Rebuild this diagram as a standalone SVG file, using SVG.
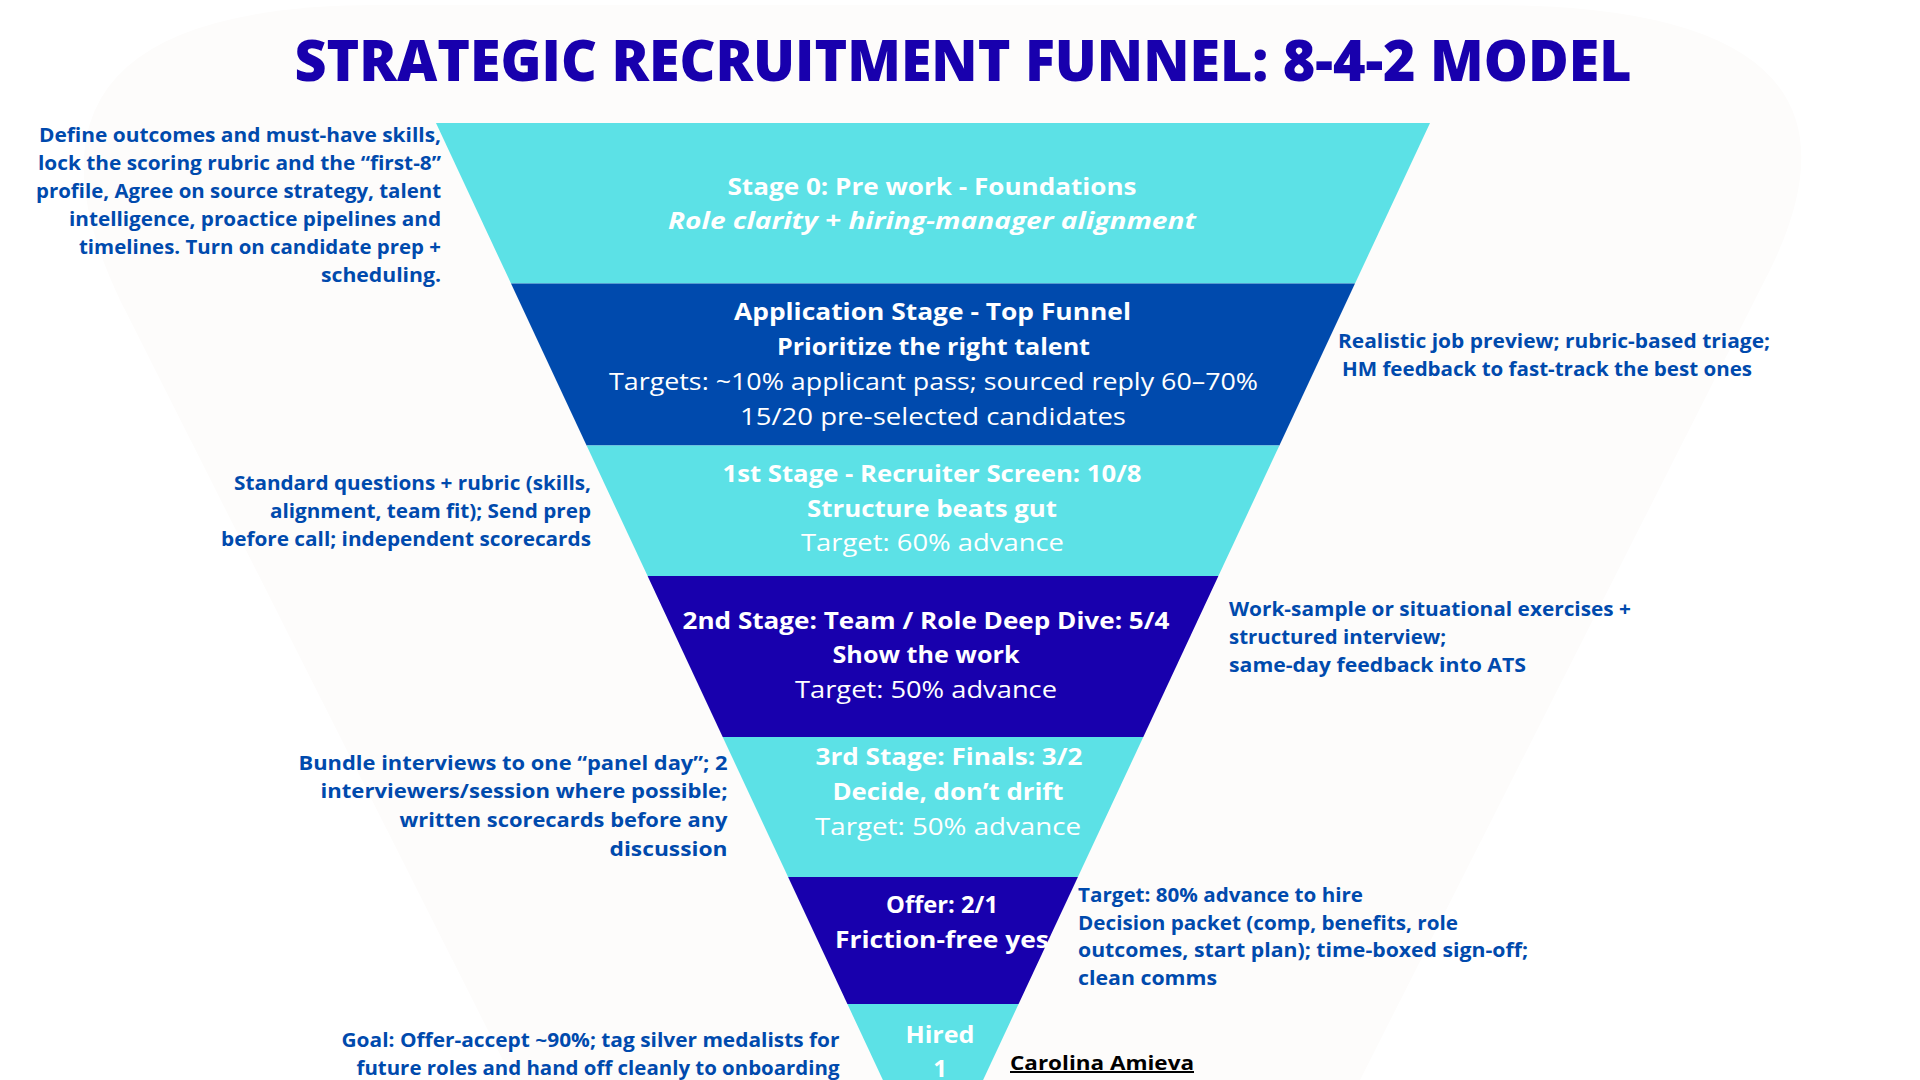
<svg xmlns="http://www.w3.org/2000/svg" width="1920" height="1080" viewBox="0 0 1920 1080">
  <style>
    .title { font-family: "Open Sans", "Liberation Sans", sans-serif; font-weight: 800; font-size: 56px; fill: #1800ad; }
    .main { font-family: "Open Sans", "Liberation Sans", sans-serif; font-size: 24px; fill: #ffffff; }
    .b { font-weight: 700; }
    .r { font-weight: 400; }
    .note { font-family: "Open Sans", "Liberation Sans", sans-serif; font-weight: 700; font-size: 19px; fill: #004aad; }
    .cyan { fill: #5ce1e6; }
    .blue { fill: #004aad; }
    .purple { fill: #1800ad; }
  </style>
  <rect width="1920" height="1080" fill="#ffffff"/>
  <g id="background">
    <path d="M380,5 L1490,5 Q1900,5 1770,270 L1360,1080 L513,1080 L120,300 Q-20,5 380,5 Z" fill="#fdfcfb"/>
  </g>
  <text class="title" x="963" y="81" text-anchor="middle" textLength="1337" lengthAdjust="spacingAndGlyphs">STRATEGIC RECRUITMENT FUNNEL: 8-4-2 MODEL</text>

  <g id="funnel">
    <g id="stage0">
      <polygon class="cyan" points="436,123 1430,123 1355,283.5 511,283.5"/>
      <text class="main b" x="932" y="195" text-anchor="middle" textLength="409" lengthAdjust="spacingAndGlyphs">Stage 0: Pre work - Foundations</text>
      <text class="main b" x="932" y="229" text-anchor="middle" font-style="italic" textLength="528" lengthAdjust="spacingAndGlyphs">Role clarity + hiring-manager alignment</text>
    </g>
    <g id="application">
      <polygon class="blue" points="511,283.5 1355,283.5 1279.4,445.5 586.6,445.5"/>
      <text class="main b" x="932.5" y="320" text-anchor="middle" textLength="397" lengthAdjust="spacingAndGlyphs">Application Stage - Top Funnel</text>
      <text class="main b" x="933.5" y="355" text-anchor="middle" textLength="313" lengthAdjust="spacingAndGlyphs">Prioritize the right talent</text>
      <text class="main r" x="933.5" y="390" text-anchor="middle" textLength="649" lengthAdjust="spacingAndGlyphs">Targets: ~10% applicant pass; sourced reply 60–70%</text>
      <text class="main r" x="933" y="425" text-anchor="middle" textLength="386" lengthAdjust="spacingAndGlyphs">15/20 pre-selected candidates</text>
    </g>
    <g id="stage1">
      <polygon class="cyan" points="586.6,445.5 1279.4,445.5 1218.4,576 647.6,576"/>
      <text class="main b" x="932" y="482" text-anchor="middle" textLength="419" lengthAdjust="spacingAndGlyphs">1st Stage - Recruiter Screen: 10/8</text>
      <text class="main b" x="932" y="517" text-anchor="middle" textLength="250" lengthAdjust="spacingAndGlyphs">Structure beats gut</text>
      <text class="main r" x="932.5" y="551" text-anchor="middle" textLength="263" lengthAdjust="spacingAndGlyphs">Target: 60% advance</text>
    </g>
    <g id="stage2">
      <polygon class="purple" points="647.6,576 1218.4,576 1143.3,737 722.7,737"/>
      <text class="main b" x="926" y="629" text-anchor="middle" textLength="487" lengthAdjust="spacingAndGlyphs">2nd Stage: Team / Role Deep Dive: 5/4</text>
      <text class="main b" x="926" y="663" text-anchor="middle" textLength="187" lengthAdjust="spacingAndGlyphs">Show the work</text>
      <text class="main r" x="926" y="698" text-anchor="middle" textLength="262" lengthAdjust="spacingAndGlyphs">Target: 50% advance</text>
    </g>
    <g id="stage3">
      <polygon class="cyan" points="722.7,737 1143.3,737 1077.9,877 788.1,877"/>
      <text class="main b" x="949" y="765" text-anchor="middle" textLength="267" lengthAdjust="spacingAndGlyphs">3rd Stage: Finals: 3/2</text>
      <text class="main b" x="948" y="800" text-anchor="middle" textLength="231" lengthAdjust="spacingAndGlyphs">Decide, don’t drift</text>
      <text class="main r" x="948" y="835" text-anchor="middle" textLength="266" lengthAdjust="spacingAndGlyphs">Target: 50% advance</text>
    </g>
    <g id="offer">
      <polygon class="purple" points="788.1,877 1077.9,877 1018.6,1004 847.4,1004"/>
      <text class="main b" x="942" y="913" text-anchor="middle" textLength="112" lengthAdjust="spacingAndGlyphs">Offer: 2/1</text>
      <text class="main b" x="942" y="948" text-anchor="middle" textLength="214" lengthAdjust="spacingAndGlyphs">Friction-free yes</text>
    </g>
    <g id="hired">
      <polygon class="cyan" points="847.4,1004 1018.6,1004 983.1,1080 882.9,1080"/>
      <text class="main b" x="940" y="1043" text-anchor="middle" textLength="69" lengthAdjust="spacingAndGlyphs">Hired</text>
      <text class="main b" x="940" y="1077" text-anchor="middle">1</text>
    </g>
  </g>

  <g id="connectors"/>

  <g id="notes">
    <g id="note-stage0" class="note" text-anchor="end">
      <text x="441" y="142" textLength="402" lengthAdjust="spacingAndGlyphs">Define outcomes and must-have skills,</text>
      <text x="441" y="170" textLength="403" lengthAdjust="spacingAndGlyphs">lock the scoring rubric and the “first-8”</text>
      <text x="441" y="198" textLength="405" lengthAdjust="spacingAndGlyphs">profile, Agree on source strategy, talent</text>
      <text x="441" y="226" textLength="372" lengthAdjust="spacingAndGlyphs">intelligence, proactice pipelines and</text>
      <text x="441" y="254" textLength="362" lengthAdjust="spacingAndGlyphs">timelines. Turn on candidate prep +</text>
      <text x="441" y="282" textLength="120" lengthAdjust="spacingAndGlyphs">scheduling.</text>
    </g>
    <g id="note-application" class="note">
      <text x="1338" y="348" textLength="432" lengthAdjust="spacingAndGlyphs">Realistic job preview; rubric-based triage;</text>
      <text x="1342" y="376" textLength="410" lengthAdjust="spacingAndGlyphs">HM feedback to fast-track the best ones</text>
    </g>
    <g id="note-stage1" class="note" text-anchor="end">
      <text x="591" y="489.5" textLength="357" lengthAdjust="spacingAndGlyphs">Standard questions + rubric (skills,</text>
      <text x="591" y="517.5" textLength="321" lengthAdjust="spacingAndGlyphs">alignment, team fit); Send prep</text>
      <text x="591" y="545.5" textLength="370" lengthAdjust="spacingAndGlyphs">before call; independent scorecards</text>
    </g>
    <g id="note-stage2" class="note">
      <text x="1229" y="615.5" textLength="402" lengthAdjust="spacingAndGlyphs">Work-sample or situational exercises +</text>
      <text x="1229" y="643.5" textLength="217" lengthAdjust="spacingAndGlyphs">structured interview;</text>
      <text x="1229" y="672" textLength="297" lengthAdjust="spacingAndGlyphs">same-day feedback into ATS</text>
    </g>
    <g id="note-stage3" class="note" text-anchor="end">
      <text x="727.5" y="770" textLength="429" lengthAdjust="spacingAndGlyphs">Bundle interviews to one “panel day”; 2</text>
      <text x="727.5" y="798" textLength="407" lengthAdjust="spacingAndGlyphs">interviewers/session where possible;</text>
      <text x="727.5" y="827" textLength="328" lengthAdjust="spacingAndGlyphs">written scorecards before any</text>
      <text x="727.5" y="856" textLength="118" lengthAdjust="spacingAndGlyphs">discussion</text>
    </g>
    <g id="note-offer" class="note">
      <text x="1078" y="902" textLength="285" lengthAdjust="spacingAndGlyphs">Target: 80% advance to hire</text>
      <text x="1078" y="930" textLength="380" lengthAdjust="spacingAndGlyphs">Decision packet (comp, benefits, role</text>
      <text x="1078" y="957" textLength="450" lengthAdjust="spacingAndGlyphs">outcomes, start plan); time-boxed sign-off;</text>
      <text x="1078" y="985" textLength="139" lengthAdjust="spacingAndGlyphs">clean comms</text>
    </g>
    <g id="note-hired" class="note" text-anchor="end">
      <text x="839.5" y="1047" textLength="498" lengthAdjust="spacingAndGlyphs">Goal: Offer-accept ~90%; tag silver medalists for</text>
      <text x="839.5" y="1075" textLength="483" lengthAdjust="spacingAndGlyphs">future roles and hand off cleanly to onboarding</text>
    </g>
    <g id="author">
      <text x="1010" y="1070" font-family="Open Sans, Liberation Sans, sans-serif" font-weight="700" font-size="20" fill="#000000" text-decoration="underline" textLength="184" lengthAdjust="spacingAndGlyphs">Carolina Amieva</text>
    </g>
  </g>
</svg>
